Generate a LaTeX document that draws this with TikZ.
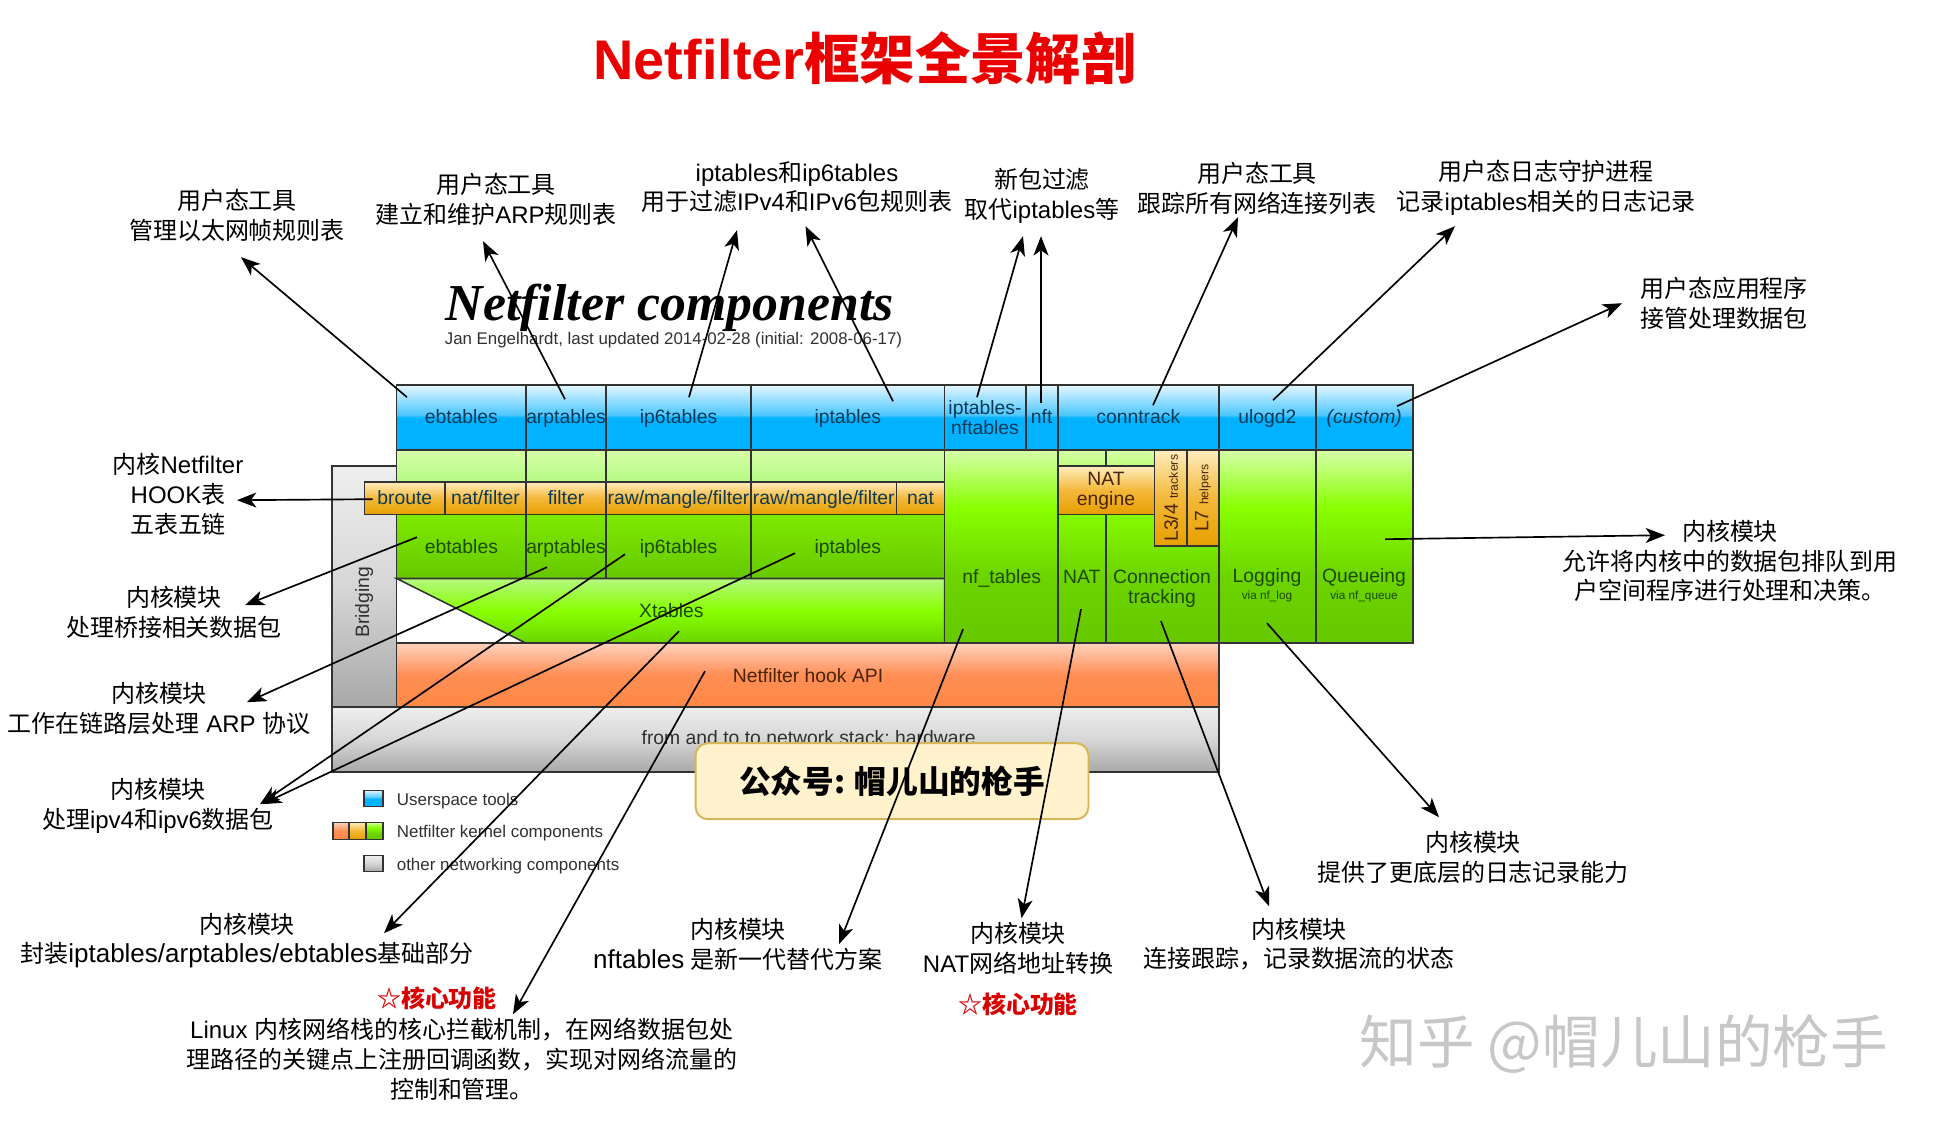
\documentclass[tikz,border=0pt]{standalone}
\usepackage{fontspec}
\setmainfont{Liberation Sans}
\newfontfamily\cjk{Noto Sans CJK SC}
\newfontfamily\titleserif{Liberation Serif}
\usepackage{tikz}
\usetikzlibrary{arrows.meta,positioning}
\definecolor{bluetxt}{HTML}{0A3A55}
\definecolor{greentxt}{HTML}{1C4A00}
\definecolor{orangetxt}{HTML}{4A2408}
\definecolor{greytxt}{HTML}{303030}
\definecolor{edgeclr}{HTML}{333333}
\definecolor{stampedge}{HTML}{D6B656}
\definecolor{stampfill}{HTML}{FFF2CC}
\definecolor{blueA}{HTML}{E2F6FF}\definecolor{blueB}{HTML}{4CC6FF}\definecolor{blueC}{HTML}{00B2FF}
\definecolor{greenA}{HTML}{D6FFAA}\definecolor{greenB}{HTML}{88FF00}\definecolor{greenC}{HTML}{6CD400}\definecolor{greenD}{HTML}{66C800}
\definecolor{rowA}{HTML}{7EEA00}\definecolor{rowB}{HTML}{B4F880}
\definecolor{yellowA}{HTML}{FFEDBE}\definecolor{yellowB}{HTML}{F4B83A}\definecolor{yellowC}{HTML}{E6A000}
\definecolor{orangeA}{HTML}{FFD2BE}\definecolor{orangeB}{HTML}{FF8E55}\definecolor{orangeC}{HTML}{FF8844}
\definecolor{greyA}{HTML}{EEEEEE}\definecolor{greyB}{HTML}{D6D6D6}\definecolor{greyC}{HTML}{A8A8A8}
\pgfdeclareverticalshading{blueshade}{100bp}{color(0bp)=(blueC);color(25bp)=(blueC);color(50bp)=(blueC);color(52bp)=(blueB);color(75bp)=(blueA);color(100bp)=(blueA)}
\pgfdeclareverticalshading{tallshade}{100bp}{color(0bp)=(greenD);color(25bp)=(greenD);color(42bp)=(greenC);color(60bp)=(greenB);color(75bp)=(greenA);color(100bp)=(greenA)}
\pgfdeclareverticalshading{rowshade}{100bp}{color(0bp)=(greenD);color(25bp)=(greenD);color(50bp)=(rowA);color(62bp)=(rowB);color(75bp)=(greenA);color(100bp)=(greenA)}
\pgfdeclareverticalshading{xtshade}{100bp}{color(0bp)=(greenC);color(25bp)=(greenC);color(50bp)=(greenB);color(75bp)=(rowB);color(100bp)=(rowB)}
\pgfdeclareverticalshading{hookshade}{100bp}{color(0bp)=(yellowC);color(25bp)=(yellowC);color(50bp)=(yellowB);color(75bp)=(yellowA);color(100bp)=(yellowA)}
\pgfdeclareverticalshading{apishade}{100bp}{color(0bp)=(orangeC);color(25bp)=(orangeC);color(50bp)=(orangeB);color(75bp)=(orangeA);color(100bp)=(orangeA)}
\pgfdeclareverticalshading{greyshade}{100bp}{color(0bp)=(greyC);color(25bp)=(greyC);color(50bp)=(greyB);color(75bp)=(greyA);color(100bp)=(greyA)}
\tikzset{
  blk/.style={draw=edgeclr,line width=0.9pt},
  usr/.style={blk,shading=blueshade},
  tall/.style={blk,shading=tallshade},
  row/.style={blk,shading=rowshade},
  hook/.style={blk,shading=hookshade},
  api/.style={blk,shading=apishade},
  gry/.style={blk,shading=greyshade},
  usrtxt/.style={text=bluetxt,font=\fontsize{11}{11.5}\selectfont,align=center,inner sep=0pt},
  kertxt/.style={usrtxt,text=greentxt},
  hooktxt/.style={usrtxt,text=orangetxt},
  gretxt/.style={usrtxt,text=greytxt},
  note/.style={font=\fontsize{13.65}{16.9}\selectfont,align=center,inner sep=0pt},
  star/.style={text=red!85!black,font=\fontsize{13.65}{16.9}\selectfont\cjk\bfseries,inner sep=0pt},
  legendtxt/.style={font=\fontsize{9.65}{12}\selectfont,text=greytxt,anchor=west,inner sep=0pt},
  swatch/.style={blk,line width=0.6pt},
  arrow/.style={-{Stealth[length=11pt,width=8.5pt,inset=3pt]},line width=0.95pt}
}
% same height for every one-line label
\newcommand{\tst}{\rule[-2.5pt]{0pt}{12.1pt}}
% one block: name, style, corners, text
\newcommand{\blk}[7]{\draw[#2] (#3,#4) rectangle (#5,#6) node[midway,usrtxt] (#1) {\tst #7};}
\newcommand{\zh}[1]{{\cjk #1}}
\newcommand{\wide}[1]{{\fontsize{14.8}{16.9}\selectfont #1}}

\begin{document}
\begin{tikzpicture}[x=0.02cm,y=-0.02cm]
  \useasboundingbox (0,-1.2) rectangle (1938,1120.8);
  % title
  \node[text=red!92!black,inner sep=0pt] (title) at (865,57)
    {\fontsize{31.8}{40}\selectfont\bfseries Netfilter{\fontsize{31.5}{40}\selectfont\cjk\bfseries 框架全景解剖}};
  \node[anchor=base west,inner sep=0pt,font=\fontsize{29.5}{32}\selectfont\titleserif\bfseries\itshape] (comp) at (445.5,319) {Netfilter components};
  \node[anchor=west,inner sep=0pt,font=\fontsize{9.6}{11}\selectfont,text=greytxt] (sub) at (444.5,339)
    {Jan Engelhardt, last updated 2014-02-28 (initial: 2008-06-17)};
  % grey blocks at the back
  \blk{bridgeBox}{gry}{332}{464.7}{396.6}{706}{}
  \blk{stackBox}{gry}{332}{706}{1219}{771}{}
  \blk{apiBox}{api}{396.6}{641.7}{1219}{706}{}
  % userspace row
  \blk{ebU}{usr}{396.6}{384}{526}{448.7}{ebtables}
  \blk{arpU}{usr}{526}{384}{606}{448.7}{arptables}
  \blk{ip6U}{usr}{606}{384}{751}{448.7}{ip6tables}
  \blk{ipU}{usr}{751}{384}{944.6}{448.7}{iptables}
  \blk{nfU}{usr}{944.6}{384}{1025.7}{448.7}{}
  \blk{nftU}{usr}{1025.7}{384}{1057.7}{448.7}{nft}
  \blk{ctU}{usr}{1057.7}{384}{1219}{448.7}{conntrack}
  \blk{ulogU}{usr}{1219}{384}{1315.7}{448.7}{ulogd2}
  \blk{custU}{usr}{1315.7}{384}{1412.7}{448.7}{\itshape (custom)}
  \node[usrtxt] (nfUT) at (985,416) {iptables-\\nftables};
  % kernel rows
  \blk{ebK}{row}{396.6}{448.7}{526}{577.3}{}
  \blk{arpK}{row}{526}{448.7}{606}{577.3}{}
  \blk{ip6K}{row}{606}{448.7}{751}{577.3}{}
  \blk{ipK}{row}{751}{448.7}{944.6}{577.3}{}
  \draw[blk,shading=xtshade] (396.6,577.3) -- (944.6,577.3) -- (944.6,641.7) -- (525.4,641.7) -- cycle;
  \blk{nftK}{tall}{944.6}{448.7}{1057.7}{641.7}{}
  \blk{natK}{tall}{1057.7}{448.7}{1106}{641.7}{}
  \blk{ctK}{tall}{1106}{448.7}{1219}{641.7}{}
  \blk{logK}{tall}{1219}{448.7}{1315.7}{641.7}{}
  \blk{queK}{tall}{1315.7}{448.7}{1412.7}{641.7}{}
  % tables
  \blk{hkA}{hook}{364.6}{480.7}{445}{513.3}{broute}
  \blk{hkB}{hook}{445}{480.7}{526}{513.3}{nat/filter}
  \blk{hkC}{hook}{526}{480.7}{606}{513.3}{filter}
  \blk{hkD}{hook}{606}{480.7}{751}{513.3}{raw/mangle/filter}
  \blk{hkE}{hook}{751}{480.7}{896.6}{513.3}{raw/mangle/filter}
  \blk{hkF}{hook}{896.6}{480.7}{944.6}{513.3}{nat}
  \blk{natE}{hook}{1057.7}{465}{1154.3}{513.3}{}
  \blk{trkB}{hook}{1154.3}{448.7}{1186.7}{545}{}
  \blk{hlpB}{hook}{1186.7}{448.7}{1219}{545}{}
  \node[hooktxt] (natET) at (1106,489.5) {NAT\\engine};
  \foreach \n/\X/\Y/\T in {ebT/461.4/545.7/ebtables,arpT/566/545.7/arptables,ip6T/678.6/545.7/ip6tables,ipT/847.8/545.7/iptables,
      xtT/671.4/610/Xtables,nftT/1001.7/576/nf\_tables,natT/1081.7/576/NAT}
    \node[kertxt] (\n) at (\X,\Y) {\tst\T};
  \node[kertxt] (ctT) at (1162,587) {Connection\\tracking};
  \node[kertxt] (logT) at (1267,584) {Logging\\[-2pt]{\fontsize{6.7}{7}\selectfont via nf\_log}};
  \node[kertxt] (queT) at (1364,584) {Queueing\\[-2pt]{\fontsize{6.7}{7}\selectfont via nf\_queue}};
  \node[hooktxt,rotate=90] (trkT) at (1171,497) {L3/4 {\fontsize{7}{8}\selectfont trackers}};
  \node[hooktxt,rotate=90] (hlpT) at (1203,497) {L7 {\fontsize{7}{8}\selectfont helpers}};
  \node[gretxt,rotate=90] (brT) at (364,601) {Bridging};
  \node[hooktxt] (apiT) at (808,675) {\tst Netfilter hook API};
  \node[gretxt] (stackT) at (808.7,738) {from and to to network stack; hardware};
  % legend
  \draw[swatch,shading=blueshade] (364,789) rectangle (383,805);
  \draw[swatch,shading=apishade] (333,821) rectangle (349,838);
  \draw[swatch,shading=hookshade] (349,821) rectangle (366,838);
  \draw[swatch,shading=tallshade] (366,821) rectangle (383,838);
  \draw[swatch,shading=greyshade] (364,854) rectangle (383,870);
  \node[legendtxt] (lgA) at (396.5,799.5) {Userspace tools};
  \node[legendtxt] (lgB) at (396.5,831.5) {Netfilter kernel components};
  \node[legendtxt] (lgC) at (396.5,864.5) {other networking components};
  % stamp
  \node[draw=stampedge,fill=stampfill,line width=1.1pt,rounded corners=7pt,minimum width=7.86cm,minimum height=1.52cm,
    inner sep=0pt,font=\fontsize{18}{20}\selectfont\cjk\bfseries] (stamp) at (892,780) {公众号: 帽儿山的枪手};
  % notes
  \node[note] (nEb) at (237,214) {\zh{用户态工具}\\\zh{管理以太网帧规则表}};
  \node[note] (nArp) at (496,198) {\zh{用户态工具}\\\zh{建立和维护}ARP\zh{规则表}};
  \node[note] (nIp) at (797,186) {iptables\zh{和}ip6tables\\\zh{用于过滤}IPv4\zh{和}IPv6\zh{包规则表}};
  \node[note] (nNft) at (1042,195) {\zh{新包过滤}\\\zh{取代}iptables\zh{等}};
  \node[note] (nCt) at (1257,187) {\zh{用户态工具}\\\zh{跟踪所有网络连接列表}};
  \node[note] (nUlog) at (1546,187) {\zh{用户态日志守护进程}\\\zh{记录}iptables\zh{相关的日志记录}};
  \node[note] (nCust) at (1724,302) {\zh{用户态应用程序}\\\zh{接管处理数据包}};
  \node[note] (nHook) at (178,493) {\zh{内核}Netfilter\\HOOK\zh{表}\\\zh{五表五链}};
  \node[note] (nEbK) at (174,611.5) {\zh{内核模块}\\\zh{处理桥接相关数据包}};
  \node[note] (nArpK) at (159,707.5) {\zh{内核模块}\\\zh{工作在链路层处理} ARP \zh{协议}};
  \node[note] (nIpK) at (158,804.5) {\zh{内核模块}\\\zh{处理}ipv4\zh{和}ipv6\zh{数据包}};
  \node[note] (nXt) at (247,939.5) {\zh{内核模块}\\\zh{封装}\wide{iptables/arptables/ebtables}\zh{基础部分}};
  \node[star] (nStarA) at (437,997) {☆核心功能};
  \node[note] (nApi) at (462,1058) {Linux \zh{内核网络栈的核心拦截机制，在网络数据包处}\\\zh{理路径的关键点上注册回调函数，实现对网络流量的}\\\zh{控制和管理。}};
  \node[note] (nNftK) at (738,943) {\zh{内核模块}\\\wide{nftables} \zh{是新一代替代方案}};
  \node[note] (nNat) at (1018,947) {\zh{内核模块}\\NAT\zh{网络地址转换}};
  \node[star] (nStarB) at (1018,1003) {☆核心功能};
  \node[note] (nCtK) at (1299,943) {\zh{内核模块}\\\zh{连接跟踪，记录数据流的状态}};
  \node[note] (nLog) at (1473,856) {\zh{内核模块}\\\zh{提供了更底层的日志记录能力}};
  \node[note] (nQue) at (1730,560) {\zh{内核模块}\\\zh{允许将内核中的数据包排队到用}\\\zh{户空间程序进行处理和决策。}};
  % arrows
  \foreach \n/\tx/\ty/\hx/\hy in {
      a/407/396/241/256, b/565/398/483/240, c/689/396/737/229, d/893/400/805.5/225,
      e/977/396/1023/235, f/1041/402/1041/235, g/1153/404/1238/216, h/1273/399/1455/225,
      i/1397/405/1622/302, j/372.6/498/237/499, k/417/536/245/604, l/547/566/247/701,
      m/625/553/260/803, o/795/552/262/803, p/679/630/384/932, q/705/670/513/1013,
      r/963/628/839/943, s/1081/608/1021.5/917, u/1161/620/1269/905, v/1267/622/1439/816,
      w/1385/538/1665/534}{
    \coordinate (t\n) at (\tx,\ty);
    \coordinate (h\n) at (\hx,\hy);
    \draw[arrow] (t\n) -- (h\n);
  }
  % mark
  \node[text=black!22,inner sep=0pt,font=\fontsize{32.8}{36}\selectfont\cjk] (mark) at (1624,1043) {知乎 @帽儿山的枪手};
\end{tikzpicture}
\end{document}
